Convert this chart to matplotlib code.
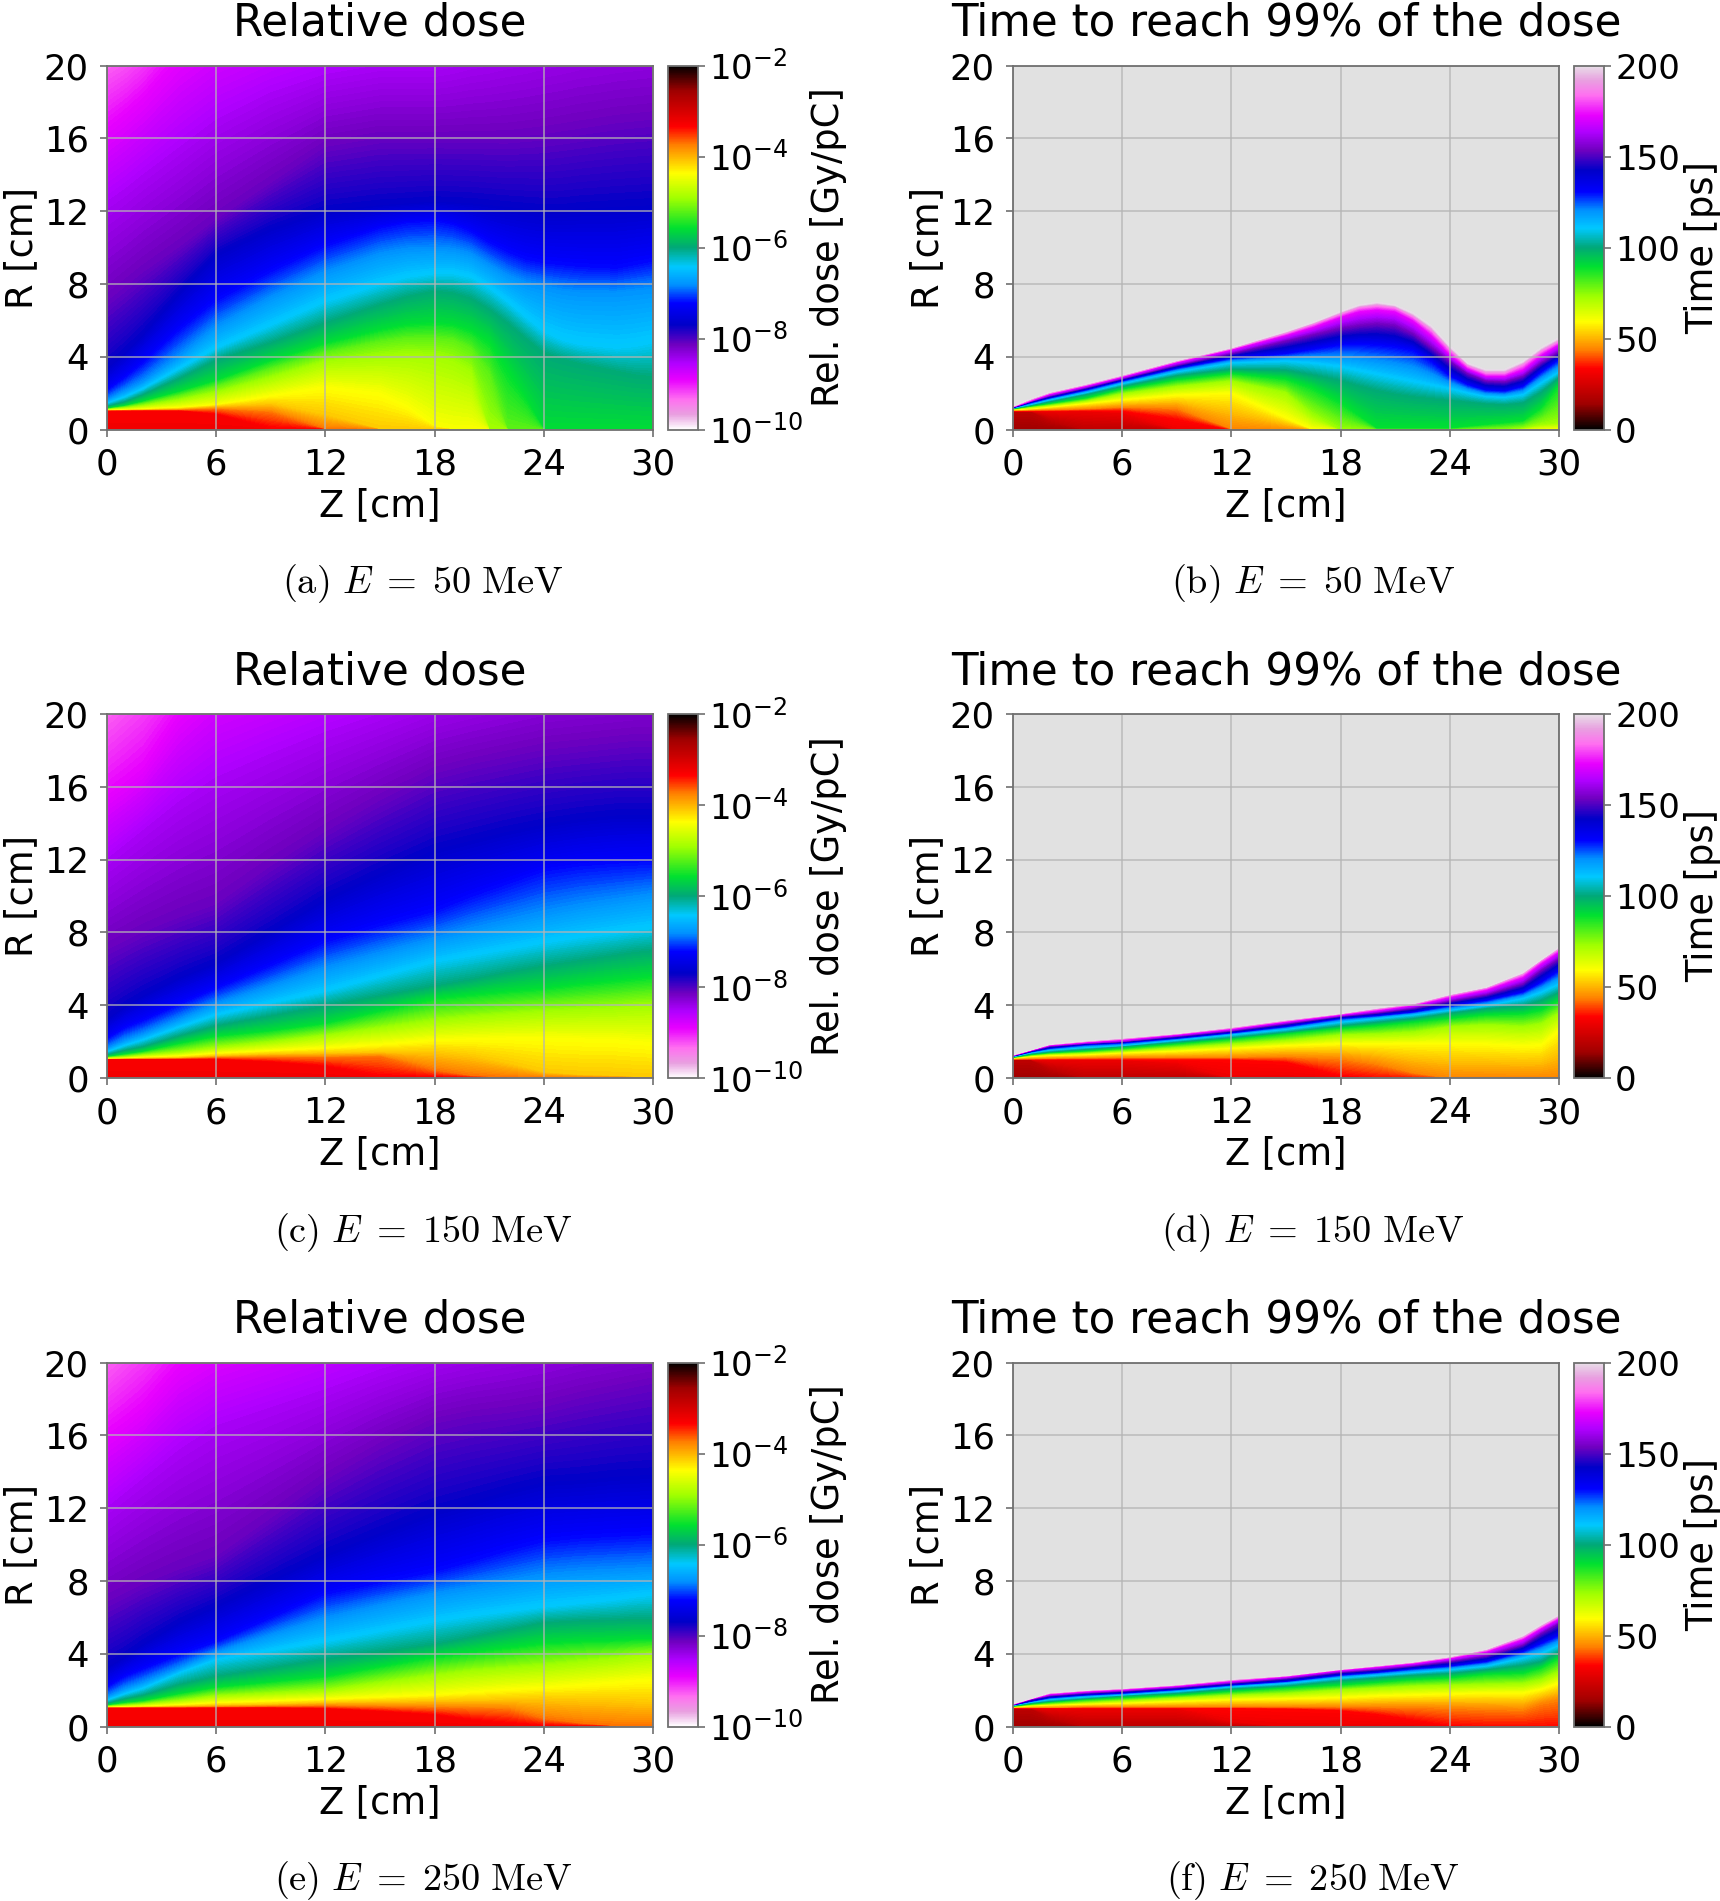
import numpy as np
import matplotlib
matplotlib.use("Agg")
import matplotlib.pyplot as plt
from matplotlib.cm import ScalarMappable
from matplotlib.colors import LinearSegmentedColormap, LogNorm, Normalize

plt.rcParams["font.family"] = "DejaVu Sans"

WIDTH = 1720
HEIGHT = 1901

# Z positions (cm) where the isolines below are tabulated
Z_STATIONS = [0, 1, 2, 4, 6, 9, 12, 15, 18, 20, 22, 24, 26, 28, 29, 30]
# the 50 MeV beam stops inside the phantom, so its tables are denser
Z_FINE = [0, 1, 2, 4, 6, 9, 12, 15, 16.5, 18, 19, 20, 21, 22, 23, 24, 25, 26, 27, 28, 29, 30]

# log10(dose) of each isoline; every table row gives R (cm) of one isoline
DOSE_LEVELS = [-3.3, -3.7, -4.1, -4.4, -4.9, -5.6, -6.0, -6.4, -6.8, -7.2, -7.7, -8.1, -8.5, -8.9, -9.3]
DOSE_LEVELS_50 = [-3.3, -3.7, -4.1, -4.4, -4.9, -5.2, -5.6, -6.0, -6.4, -6.8, -7.2, -7.7, -8.1, -8.5, -8.9, -9.3]

dose_50 = [
    [1, 1, 1, 1, .8, 0, 0, 0, 0, 0, 0, 0, 0, 0, 0, 0, 0, 0, 0, 0, 0, 0],
    [1.02, 1.03, 1.04, 1.05, 1.1, .9, 0, 0, 0, 0, 0, 0, 0, 0, 0, 0, 0, 0, 0, 0, 0, 0],
    [1.03, 1.05, 1.07, 1.12, 1.25, 1.4, .8, 0, 0, 0, 0, 0, 0, 0, 0, 0, 0, 0, 0, 0, 0, 0],
    [1.05, 1.08, 1.12, 1.2, 1.35, 1.85, 2.35, 2, 1.3, .2, 0, 0, 0, 0, 0, 0, 0, 0, 0, 0, 0, 0],
    [1.1, 1.18, 1.3, 1.6, 2, 2.8, 3.7, 4, 4.1, 4, 3.7, 3.1, 0, 0, 0, 0, 0, 0, 0, 0, 0, 0],
    [1.12, 1.24, 1.42, 1.85, 2.35, 3.3, 4.2, 4.8, 5, 5, 4.9, 4.4, 3, 0, 0, 0, 0, 0, 0, 0, 0, 0],
    [1.15, 1.3, 1.55, 2.1, 2.7, 3.8, 4.75, 5.5, 5.8, 5.9, 5.8, 5.5, 4.9, 3.4, 1.8, 0, 0, 0, 0, 0, 0, 0],
    [1.25, 1.5, 1.9, 2.8, 3.8, 4.75, 5.85, 6.85, 7.3, 7.6, 7.5, 7.2, 6.6, 5.85, 5, 4.2, 3.85, 3.6, 3.4, 3.2, 3, 2.9],
    [1.4, 1.75, 2.2, 3.3, 4.4, 5.65, 6.95, 7.9, 8.3, 8.5, 8.5, 8.3, 7.7, 6.95, 6.1, 5.3, 4.85, 4.6, 4.5, 4.4, 4.5, 4.7],
    [1.6, 2.1, 2.6, 4, 5.6, 7.2, 8.6, 9.6, 9.85, 9.9, 9.85, 9.6, 9, 8.4, 8, 7.8, 7.6, 7.5, 7.5, 7.5, 7.6, 7.7],
    [2.1, 2.8, 3.6, 5.4, 7, 8.6, 10, 11, 11.3, 11.4, 11.2, 10.8, 10.2, 9.7, 9.3, 9.1, 9, 8.9, 8.85, 8.8, 9, 9.2],
    [3.3, 4.2, 5.2, 7.5, 9.6, 11, 12, 12.3, 12.4, 12.5, 12.45, 12.4, 12.3, 12.2, 12.1, 12, 12, 12.1, 12.15, 12.2, 12.25, 12.3],
    [7, 7.8, 8.6, 10, 11.5, 13.5, 15.5, 16, 16, 16, 16, 16, 16, 16, 16.1, 16.2, 16.35, 16.5, 16.65, 16.8, 16.9, 17],
    [12.5, 13.2, 14, 15.5, 17, 18.5, 19.5, 20, 20, 20, 20.2, 20.5, 20.7, 21, 21.2, 21.5, 21.7, 22, 22.1, 22.3, 22.4, 22.5],
    [16.5, 17.3, 18.2, 20.5, 22, 23, 24, 24.5, 24.7, 25, 25.2, 25.5, 25.7, 26, 26.5, 27, 27.1, 27.3, 27.5, 27.6, 27.8, 28],
    [20, 20.6, 21.5, 24, 26, 27, 28, 29, 29.5, 30, 30.2, 30.5, 30.7, 31, 31.2, 31.5, 31.7, 32, 32.2, 32.5, 33, 33],
]

dose_150 = [
    [1, 1, 1, 1, 1, .85, .6, 0, 0, 0, 0, 0, 0, 0, 0, 0],
    [1.02, 1.03, 1.03, 1.05, 1.1, 1.12, 1.1, 1.15, .4, .1, 0, 0, 0, 0, 0, 0],
    [1.03, 1.05, 1.07, 1.1, 1.2, 1.3, 1.35, 1.4, 1.4, 1.2, .8, .3, .15, .1, .05, 0],
    [1.05, 1.08, 1.12, 1.2, 1.35, 1.5, 1.65, 1.85, 2.1, 2.15, 2.2, 2.2, 2.15, 2.1, 2, 1.95],
    [1.1, 1.15, 1.25, 1.4, 1.65, 1.95, 2.3, 2.7, 3.1, 3.3, 3.45, 3.6, 3.7, 3.8, 3.9, 3.95],
    [1.15, 1.3, 1.45, 1.9, 2.3, 2.6, 3, 3.7, 4.4, 4.6, 4.8, 4.95, 5.2, 5.4, 5.5, 5.6],
    [1.25, 1.5, 1.7, 2.3, 2.85, 3.4, 3.95, 4.5, 5.05, 5.4, 5.8, 6.15, 6.45, 6.75, 6.9, 7],
    [1.4, 1.75, 2.05, 2.75, 3.4, 4.05, 4.7, 5.5, 6.3, 6.65, 7, 7.35, 7.65, 7.9, 8.05, 8.15],
    [1.6, 2.05, 2.4, 3.2, 4.05, 5, 6, 6.8, 7.6, 8.1, 8.55, 9, 9.4, 9.7, 9.85, 10],
    [2.1, 2.7, 3.1, 4, 4.85, 6.1, 7.4, 8.3, 9.1, 9.9, 10.6, 11.3, 11.6, 11.75, 11.8, 11.85],
    [3.2, 3.9, 4.5, 5.5, 6.3, 8, 9.8, 11.2, 12.5, 13, 13.5, 13.9, 14.2, 14.4, 14.4, 14.4],
    [7, 7.5, 8, 8.8, 9.5, 11.6, 13.5, 15.2, 16.7, 17.2, 17.6, 18, 18.2, 18.4, 18.5, 18.5],
    [12, 12.8, 13.6, 15.2, 16.5, 17.8, 19, 20, 21, 21.5, 22, 22.5, 22.7, 22.9, 23, 23],
    [15.5, 16.2, 17, 20, 22, 23, 24, 25, 26, 26.3, 26.7, 27, 27.3, 27.6, 27.8, 28],
    [20, 21, 22, 24, 26, 27, 28, 29, 30, 30.5, 31, 31.5, 32, 32.5, 33, 33],
]

dose_250 = [
    [1, 1, 1, 1, 1, 1, .95, .8, .6, .3, .1, 0, 0, 0, 0, 0],
    [1.02, 1.02, 1.03, 1.03, 1.05, 1.08, 1.1, 1.05, 1, .95, .9, .4, .15, 0, 0, 0],
    [1.03, 1.04, 1.05, 1.1, 1.15, 1.2, 1.3, 1.35, 1.4, 1.43, 1.46, 1.5, 1.45, 1.4, 1.35, 1.3],
    [1.05, 1.08, 1.1, 1.18, 1.3, 1.4, 1.5, 1.62, 1.75, 1.9, 2.05, 2.15, 2.3, 2.45, 2.55, 2.6],
    [1.1, 1.15, 1.22, 1.4, 1.65, 1.8, 1.95, 2.35, 2.75, 3, 3.15, 3.3, 3.5, 3.7, 3.85, 3.95],
    [1.15, 1.3, 1.4, 1.8, 2.15, 2.45, 2.75, 3.3, 3.85, 4.1, 4.35, 4.6, 4.7, 4.75, 4.8, 4.8],
    [1.25, 1.5, 1.7, 2.3, 2.75, 3.2, 3.7, 4.1, 4.5, 4.9, 5.3, 5.7, 5.8, 5.85, 5.9, 5.9],
    [1.4, 1.75, 2.05, 2.9, 3.6, 4.1, 4.6, 5.15, 5.7, 6, 6.25, 6.5, 6.7, 6.9, 7.05, 7.15],
    [1.6, 2.05, 2.4, 3.2, 4.05, 5, 5.9, 6.6, 7.25, 7.6, 7.9, 8.25, 8.4, 8.5, 8.55, 8.6],
    [2.1, 2.7, 3.1, 3.9, 4.6, 5.9, 7.2, 7.85, 8.45, 9, 9.6, 10.1, 10.3, 10.4, 10.45, 10.5],
    [3.2, 3.8, 4.5, 5.7, 6.6, 8, 9.4, 10.6, 11.75, 12.3, 12.9, 13.4, 13.5, 13.7, 13.75, 13.8],
    [6.8, 7.3, 7.8, 8.6, 9.3, 11.4, 13.5, 15.2, 16.6, 17, 17.2, 17.5, 18, 18.4, 18.6, 18.8],
    [12, 12.8, 13.6, 15.2, 16.5, 17.5, 18.5, 19.6, 20.5, 21, 21.5, 22, 22.4, 22.7, 22.9, 23],
    [16, 16.7, 17.5, 19.8, 21, 22, 23, 24, 25, 25.7, 26.3, 27, 27.3, 27.6, 27.8, 28],
    [20, 21, 22, 24, 25.5, 27, 28, 29, 30, 30.5, 31, 31.5, 32, 32.5, 33, 33],
]

# time (ps) of each isoline, same layout as the dose tables
TIME_LEVELS = [20, 30, 34, 44, 59, 73, 89, 100, 111, 131, 154, 173, 184, 200]

time_50 = [
    [1, 1, .5, 0, 0, 0, 0, 0, 0, 0, 0, 0, 0, 0, 0, 0, 0, 0, 0, 0, 0, 0],
    [1.01, 1.01, 1.01, 1.01, .9, 0, 0, 0, 0, 0, 0, 0, 0, 0, 0, 0, 0, 0, 0, 0, 0, 0],
    [1.02, 1.03, 1.03, 1.05, 1.05, .6, 0, 0, 0, 0, 0, 0, 0, 0, 0, 0, 0, 0, 0, 0, 0, 0],
    [1.05, 1.08, 1.1, 1.15, 1.25, 1.2, .05, 0, 0, 0, 0, 0, 0, 0, 0, 0, 0, 0, 0, 0, 0, 0],
    [1.1, 1.15, 1.25, 1.45, 1.65, 1.9, 2, .65, 0, 0, 0, 0, 0, 0, 0, 0, 0, 0, 0, 0, 0, 0],
    [1.12, 1.25, 1.35, 1.6, 2, 2.4, 2.7, 2.05, .8, 0, 0, 0, 0, 0, 0, 0, 0, 0, 0, .1, .3, .4],
    [1.14, 1.3, 1.45, 1.75, 2.25, 2.75, 3.1, 2.8, 2.3, 1.5, .8, .1, .1, .1, .1, .1, .2, .3, .4, .5, 1.2, 2.5],
    [1.16, 1.35, 1.55, 1.95, 2.4, 3, 3.35, 3.3, 3.05, 2.75, 2.45, 2.2, 2, 1.85, 1.75, 1.65, 1.55, 1.45, 1.4, 1.5, 2.1, 2.9],
    [1.18, 1.4, 1.65, 2.05, 2.55, 3.2, 3.7, 3.8, 3.7, 3.5, 3.3, 3.1, 2.9, 2.7, 2.5, 2.3, 2.05, 1.85, 1.8, 1.95, 2.6, 3.2],
    [1.2, 1.5, 1.75, 2.2, 2.7, 3.4, 3.95, 4.2, 4.45, 4.7, 4.75, 4.7, 4.6, 4.4, 3.8, 3, 2.5, 2.2, 2.15, 2.4, 3.2, 3.9],
    [1.22, 1.55, 1.85, 2.3, 2.8, 3.55, 4.2, 4.9, 5.25, 5.6, 5.75, 5.85, 5.75, 5.3, 4.55, 3.8, 3.1, 2.7, 2.65, 2.95, 3.7, 4.3],
    [1.24, 1.6, 1.95, 2.4, 2.9, 3.7, 4.4, 5.2, 5.65, 6.2, 6.5, 6.6, 6.5, 6, 5.2, 4.15, 3.35, 2.95, 2.95, 3.3, 4.1, 4.7],
    [1.26, 1.65, 2, 2.45, 2.95, 3.75, 4.45, 5.3, 5.8, 6.35, 6.7, 6.8, 6.7, 6.2, 5.45, 4.4, 3.5, 3.1, 3.1, 3.55, 4.3, 4.85],
    [1.28, 1.7, 2.05, 2.5, 3, 3.8, 4.5, 5.4, 5.9, 6.5, 6.85, 7, 6.85, 6.4, 5.7, 4.6, 3.65, 3.3, 3.3, 3.75, 4.5, 5.05],
]

time_150 = [
    [1, 1, .5, 0, 0, 0, 0, 0, 0, 0, 0, 0, 0, 0, 0, 0],
    [1.01, 1.01, 1.01, 1.01, 1, .8, 0, 0, 0, 0, 0, 0, 0, 0, 0, 0],
    [1.02, 1.02, 1.03, 1.03, 1.03, 1.03, 1.03, .9, .2, 0, 0, 0, 0, 0, 0, 0],
    [1.05, 1.08, 1.1, 1.12, 1.15, 1.15, 1.15, 1.2, 1.1, .8, .3, 0, 0, 0, 0, 0],
    [1.1, 1.2, 1.25, 1.3, 1.4, 1.5, 1.65, 1.8, 1.9, 1.9, 1.9, 1.9, 1.85, 1.75, 1.8, 2.6],
    [1.12, 1.25, 1.33, 1.4, 1.5, 1.7, 1.9, 2.1, 2.4, 2.45, 2.55, 2.85, 2.95, 2.85, 3, 3.6],
    [1.14, 1.3, 1.4, 1.5, 1.65, 1.9, 2.15, 2.45, 2.75, 2.9, 3.1, 3.3, 3.5, 3.55, 3.75, 4.3],
    [1.16, 1.35, 1.45, 1.6, 1.75, 2, 2.25, 2.55, 2.9, 3.1, 3.3, 3.6, 3.85, 4, 4.3, 4.75],
    [1.18, 1.4, 1.55, 1.7, 1.8, 2.1, 2.4, 2.7, 3.1, 3.3, 3.5, 3.75, 4, 4.4, 4.75, 5.2],
    [1.2, 1.45, 1.65, 1.85, 1.95, 2.2, 2.5, 2.85, 3.3, 3.45, 3.65, 4, 4.3, 4.75, 5.3, 5.95],
    [1.22, 1.5, 1.75, 1.9, 2, 2.3, 2.6, 3, 3.4, 3.6, 3.85, 4.25, 4.6, 5.2, 5.95, 6.6],
    [1.24, 1.53, 1.8, 1.97, 2.1, 2.38, 2.7, 3.1, 3.48, 3.72, 4, 4.45, 4.85, 5.55, 6.3, 6.95],
    [1.26, 1.54, 1.83, 2, 2.15, 2.42, 2.75, 3.15, 3.52, 3.8, 4.05, 4.55, 4.95, 5.7, 6.45, 7.1],
    [1.28, 1.55, 1.85, 2.05, 2.2, 2.45, 2.8, 3.2, 3.55, 3.85, 4.1, 4.6, 5, 5.8, 6.5, 7.2],
]

time_250 = [
    [1, 1, .5, 0, 0, 0, 0, 0, 0, 0, 0, 0, 0, 0, 0, 0],
    [1.01, 1.01, 1.01, 1.01, 1.01, 1, .3, 0, 0, 0, 0, 0, 0, 0, 0, 0],
    [1.02, 1.02, 1.02, 1.02, 1.02, 1.02, 1.02, 1, .9, .7, .4, .1, 0, 0, 0, 0],
    [1.03, 1.05, 1.05, 1.1, 1.1, 1.1, 1.1, 1.1, 1.1, 1.1, 1.1, 1.05, 1, .95, 1.3, 1.5],
    [1.08, 1.15, 1.2, 1.25, 1.3, 1.4, 1.5, 1.55, 1.6, 1.7, 1.75, 1.8, 1.85, 1.85, 2.05, 2.4],
    [1.1, 1.2, 1.25, 1.35, 1.45, 1.6, 1.75, 1.85, 2.05, 2.15, 2.25, 2.3, 2.35, 2.4, 2.6, 3.05],
    [1.12, 1.25, 1.35, 1.5, 1.6, 1.75, 1.95, 2.15, 2.3, 2.45, 2.6, 2.7, 2.9, 2.95, 3.25, 3.8],
    [1.14, 1.3, 1.4, 1.55, 1.7, 1.85, 2.1, 2.25, 2.55, 2.7, 2.85, 2.95, 3.15, 3.4, 3.6, 4.15],
    [1.16, 1.35, 1.5, 1.65, 1.75, 1.95, 2.2, 2.4, 2.7, 2.85, 3, 3.15, 3.35, 3.8, 4.05, 4.5],
    [1.18, 1.4, 1.6, 1.75, 1.85, 2.05, 2.3, 2.5, 2.85, 3, 3.2, 3.35, 3.6, 4.15, 4.6, 5.05],
    [1.2, 1.5, 1.7, 1.85, 1.95, 2.15, 2.4, 2.65, 3, 3.15, 3.35, 3.6, 3.9, 4.5, 5.15, 5.7],
    [1.22, 1.52, 1.78, 1.93, 2.03, 2.23, 2.5, 2.74, 3.1, 3.28, 3.47, 3.75, 4.12, 4.8, 5.4, 5.95],
    [1.24, 1.53, 1.82, 1.97, 2.07, 2.27, 2.55, 2.78, 3.13, 3.32, 3.52, 3.8, 4.2, 4.9, 5.5, 6.05],
    [1.26, 1.55, 1.85, 2, 2.1, 2.3, 2.6, 2.8, 3.15, 3.35, 3.55, 3.85, 4.25, 5, 5.6, 6.15],
]

Z_TICKS = [0, 6, 12, 18, 24, 30]
R_TICKS = [0, 4, 8, 12, 16, 20]
DOSE_TICKS = [1e-10, 1e-8, 1e-6, 1e-4, 1e-2]
TIME_TICKS = [0, 50, 100, 150, 200]
ENERGIES = [50, 150, 250]

# rainbow shared by both quantities, dark end first
spectrum = [
    (0.0, "#000000"), (0.07, "#a00000"), (0.168, "#ff0000"), (0.218, "#ff8000"),
    (0.296, "#ffff00"), (0.365, "#a0ff00"), (0.447, "#00e030"), (0.5, "#00a878"),
    (0.553, "#00c8ff"), (0.603, "#0090ff"), (0.653, "#0000ff"), (0.713, "#0000c8"),
    (0.768, "#7000c0"), (0.818, "#b000ff"), (0.864, "#e800ff"), (0.919, "#ff70f0"),
    (0.96, "#e8a0e0"),
]
time_cmap = LinearSegmentedColormap.from_list("time", spectrum + [(1.0, "#e8e0e8")], N=512)
dose_cmap = LinearSegmentedColormap.from_list("dose", spectrum + [(1.0, "#ffffff")], N=512).reversed()

SPINE = "#707070"
GRID = "#b4b4b4"
TICK_SIZE = 25.5
CBAR_TICK_SIZE = 24.5
LABEL_SIZE = 26.5
TITLE_SIZE = 31.4
CAPTION_SIZE = 27.6


def px_rect(left, top, right, bottom):
    return [left / WIDTH, 1 - bottom / HEIGHT, (right - left) / WIDTH, (bottom - top) / HEIGHT]


def draw_field(ax, stations, rows, levels, base, ceiling, vmin, vmax, cmap):
    # isolines become a curvilinear grid, so contourf interpolates along R and Z
    z = np.array(stations, dtype=float)
    r = np.vstack([np.zeros(len(z)), np.array(rows, dtype=float), np.full(len(z), 40.0)])
    value = np.array([base] + list(levels) + [ceiling], dtype=float)
    zz, vv = np.meshgrid(z, value)
    fill_levels = np.linspace(vmin, vmax, 241)
    ax.contourf(zz, r, vv, levels=fill_levels, cmap=cmap, vmin=vmin, vmax=vmax, antialiased=False)


def style_axes(ax, title):
    ax.set_xlim(0, 30)
    ax.set_ylim(0, 20)
    ax.set_xticks(Z_TICKS)
    ax.set_yticks(R_TICKS)
    ax.tick_params(labelsize=TICK_SIZE, length=5, width=1.2, color=SPINE, pad=8)
    ax.grid(True, color=GRID, linewidth=1.2, alpha=0.8)
    for spine in ax.spines.values():
        spine.set_color(SPINE)
        spine.set_linewidth(1.3)
    ax.set_xlabel("Z [cm]", fontsize=LABEL_SIZE, labelpad=4)
    ax.set_ylabel("R [cm]", fontsize=LABEL_SIZE, labelpad=3)
    ax.set_title(title, fontsize=TITLE_SIZE, pad=21.5)


def add_colorbar(fig, cax, norm, cmap, ticks, label, labelpad):
    cbar = fig.colorbar(ScalarMappable(norm=norm, cmap=cmap), cax=cax, ticks=ticks)
    cbar.ax.minorticks_off()
    cbar.ax.tick_params(labelsize=CBAR_TICK_SIZE, length=5, width=1.2, color=SPINE, pad=3)
    cbar.outline.set_edgecolor(SPINE)
    cbar.outline.set_linewidth(1.3)
    cbar.set_label(label, fontsize=LABEL_SIZE, labelpad=labelpad)


fig = plt.figure(figsize=(WIDTH / 100, HEIGHT / 100), dpi=100)

row_tops = [65.5, 714, 1362.5]
caption_y = [584, 1233, 1881]
stations = [Z_FINE, Z_STATIONS, Z_STATIONS]
dose_levels = [DOSE_LEVELS_50, DOSE_LEVELS, DOSE_LEVELS]
dose_tables = [dose_50, dose_150, dose_250]
time_tables = [time_50, time_150, time_250]
letters = ["a", "b", "c", "d", "e", "f"]

for i in range(3):
    top = row_tops[i]
    bottom = top + 364

    ax = fig.add_axes(px_rect(107, top, 653, bottom))
    draw_field(ax, stations[i], dose_tables[i], dose_levels[i], -3.25, -10, -10, -2, dose_cmap)
    style_axes(ax, "Relative dose")
    cax = fig.add_axes(px_rect(668, top, 698, bottom))
    add_colorbar(fig, cax, LogNorm(1e-10, 1e-2), dose_cmap, DOSE_TICKS, "Rel. dose [Gy/pC]", 5)

    ax = fig.add_axes(px_rect(1013, top, 1559, bottom))
    ax.set_facecolor("#e1e1e1")
    draw_field(ax, stations[i], time_tables[i], TIME_LEVELS, 14, 300, 0, 200, time_cmap)
    style_axes(ax, "Time to reach 99% of the dose")
    cax = fig.add_axes(px_rect(1574, top, 1604, bottom))
    add_colorbar(fig, cax, Normalize(0, 200), time_cmap, TIME_TICKS, "Time [ps]", 3)

    for x, letter in ((423, letters[2 * i]), (1313, letters[2 * i + 1])):
        caption = r"$\mathrm{(%s)}\ E\;=\;%d\ \mathrm{MeV}$" % (letter, ENERGIES[i])
        fig.text(x / WIDTH, 1 - caption_y[i] / HEIGHT, caption, fontsize=CAPTION_SIZE,
                 math_fontfamily="cm", ha="center", va="center")

fig.savefig("out.png", dpi=100)
